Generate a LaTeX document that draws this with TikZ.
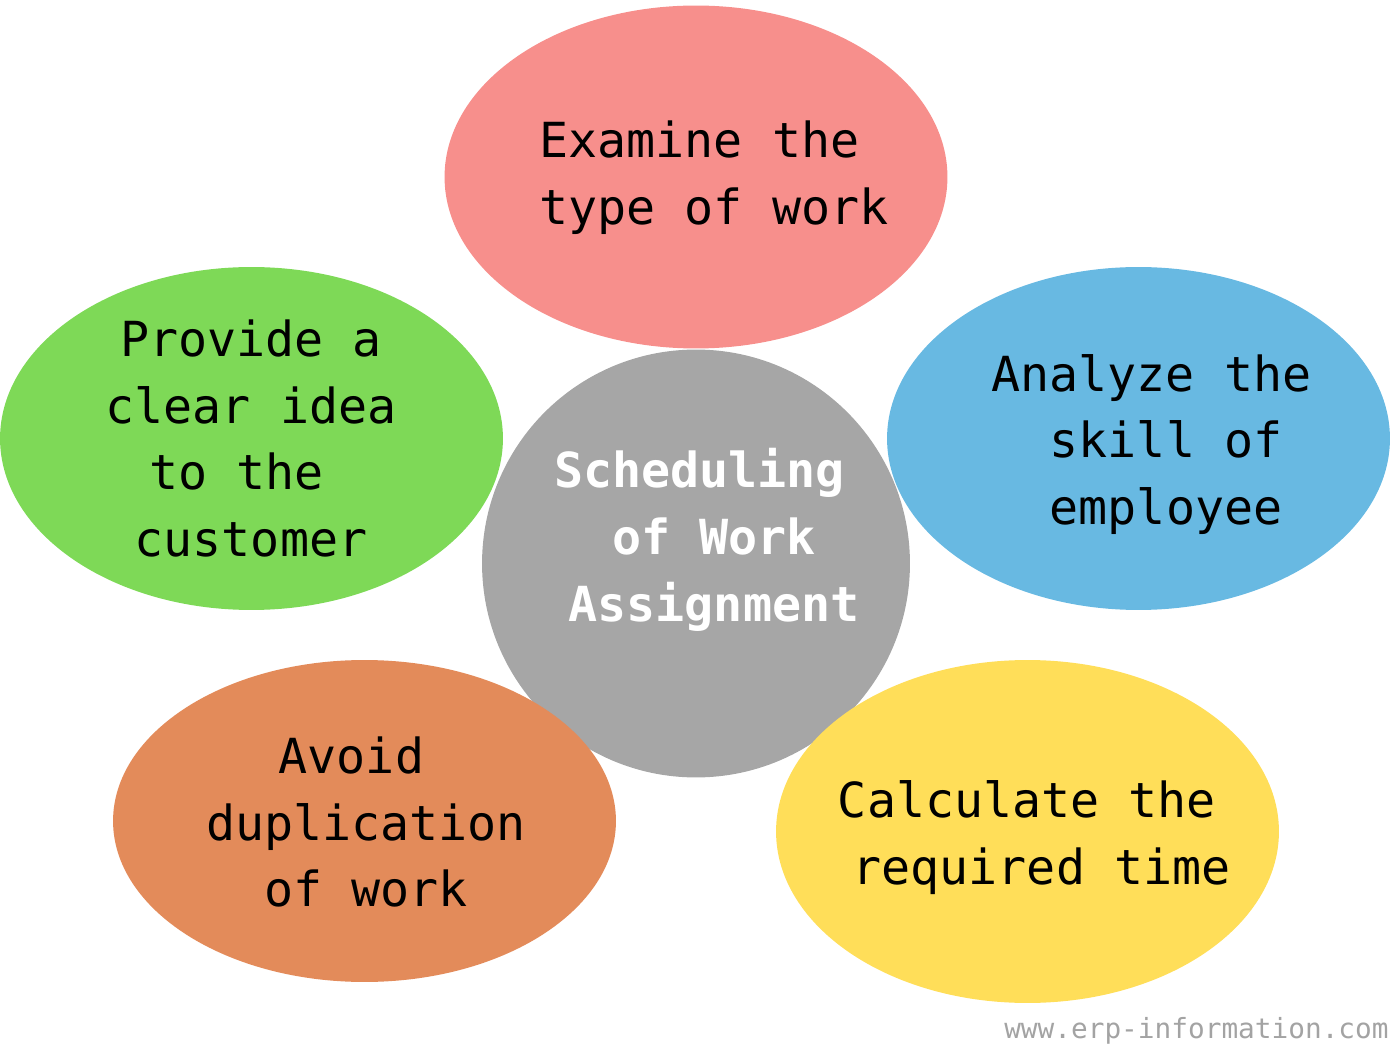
\documentclass[tikz,border=0pt]{standalone}
\usepackage{fontspec}
\setmonofont{DejaVu Sans Mono}
\usetikzlibrary{shapes.geometric,positioning}

\definecolor{petalpink}{HTML}{F78F8C}
\definecolor{petalgreen}{HTML}{7ED957}
\definecolor{petalblue}{HTML}{68B9E2}
\definecolor{petalorange}{HTML}{E38B5A}
\definecolor{petalyellow}{HTML}{FFDE59}
\definecolor{hubgray}{HTML}{A6A6A6}
\definecolor{markgray}{HTML}{A3A3A3}

\begin{document}
\begin{tikzpicture}[x=0.02cm,y=-0.02cm,
    petal/.style={ellipse,draw=none,inner sep=0pt,
                  minimum width=10.06cm,minimum height=6.86cm},
    hub/.style={circle,draw=none,fill=hubgray,inner sep=0pt,
                minimum size=8.56cm},
    words/.style={align=center,inner sep=0pt,
                  font=\ttfamily\fontsize{27.5}{38.1}\selectfont},
    hubwords/.style={words,text=white,
                  font=\ttfamily\bfseries\fontsize{27.5}{38.1}\selectfont}]
  %\fill[red] (0,0) circle (4);

  \useasboundingbox (0,0) rectangle (1400,1050);

  % petals behind the hub
  \node[petal,fill=petalpink]  (examine) at (696,177)    {};
  \node[petal,fill=petalgreen] (provide) at (251.5,438.5) {};
  \node[petal,fill=petalblue]  (analyze) at (1138.5,438.5) {};

  \node[hub] (hub) at (696,563.5) {};

  % petals over the hub
  \node[petal,fill=petalorange,minimum height=6.44cm] (avoid) at (364.5,821) {};
  \node[petal,fill=petalyellow] (calculate) at (1027.5,831.5) {};

  \node[words]    (examine text)   at (714,178)   {Examine the\hphantom{x}\\type of work};
  \node[words]    (provide text)   at (251,438.5) {Provide a\\clear idea\\to the\hphantom{x}\\customer};
  \node[words]    (analyze text)   at (1166,444.5) {Analyze the\hphantom{x}\\skill of\\employee};
  \node[hubwords] (hub text)       at (714,539.5) {Scheduling\hphantom{x}\\of Work\\Assignment};
  \node[words]    (avoid text)     at (366,822)   {Avoid\hphantom{x}\\duplication\\of work};
  \node[words]    (calculate text) at (1027,838)  {Calculate the\\\hphantom{x}required time};

  \node[anchor=base east,inner sep=0pt,text=markgray,
        font=\ttfamily\fontsize{15.8}{19}\selectfont] (mark) at (1389,1038) {www.erp-information.com};
\end{tikzpicture}
\end{document}
